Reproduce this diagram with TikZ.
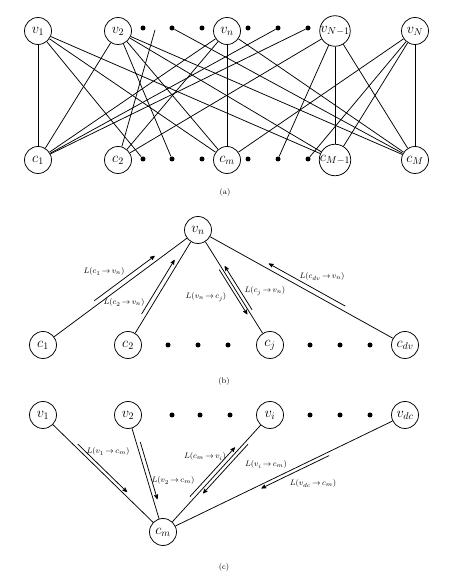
\documentclass[tikz,border=0pt]{standalone}
\usepackage{amsmath}
\usetikzlibrary{arrows, calc}

\newcommand{\msgto}{{\,\to\,}}
\tikzset{
  vnode/.style={circle, draw, minimum size=27pt, inner sep=0pt, font=\Large},
  bullet/.style={circle, fill, inner sep=0pt, minimum size=5pt},
  msg/.style={->, >=stealth'},
  lbl/.style={font=\footnotesize, inner sep=0pt}
}

\begin{document}
\begin{tikzpicture}[x=1pt, y=1pt, line width=0.75pt]
\useasboundingbox (0,0) rectangle (474,577);
% (a) full graph
\node[vnode] (v1)  at (38,546)  {$v_1$};
\node[vnode] (v2)  at (118,546) {$v_2$};
\node[vnode] (vn)  at (227,546) {$v_n$};
\node[vnode] (vN1) at (335,546) {$v_{N-1}$};
\node[vnode] (vN)  at (415,546) {$v_N$};
\node[vnode] (c1)  at (38,417)  {$c_1$};
\node[vnode] (c2)  at (118,417) {$c_2$};
\node[vnode] (cm)  at (227,417) {$c_m$};
\node[vnode] (cM1) at (335,417) {$c_{M-1}$};
\node[vnode] (cM)  at (415,417) {$c_M$};
\foreach \n/\x in {1/143, 2/172, 3/202, 4/248, 5/278, 6/308} {
  \node[bullet] (t\n) at (\x,549) {};
  \node[bullet] (b\n) at (\x,418) {};
}
\coordinate (fe) at (155,547);
\foreach \a/\b in {v1/c1, v1/b1, v1/cm, v1/cM1, v2/c1, v2/b2, v2/cm, v2/cM1,
  v2/cM, vn/c1, vn/c2, vn/cm, vn/cM, vN1/c2, vN1/b5, vN1/cM1, vN1/cM,
  vN/cm, vN/b6, vN/cM1, vN/cM, t2/cM, t5/c1, t6/c1, fe/c2}
  \draw (\a) -- (\b);
\node[lbl] (capa) at (225,384) {(a)};

% (b) variable node update
\node[vnode] (bvn)  at (198,347) {$v_n$};
\node[vnode] (bc1)  at (43,232)  {$c_1$};
\node[vnode] (bc2)  at (128,232) {$c_2$};
\node[vnode] (bcj)  at (270,232) {$c_j$};
\node[vnode] (bcdv) at (405,232) {$c_{dv}$};
\foreach \x in {168, 198, 228, 310, 340, 370}
  \node[bullet] (bd\x) at (\x,232) {};
\foreach \a in {bc1, bc2, bcj, bcdv}
  \draw (\a) -- (bvn);
\foreach \a/\b/\s/\e/\d in {bc1/bvn/0.35/0.74/5pt, bc2/bvn/0.25/0.72/4.5pt,
  bvn/bcj/0.33/0.72/-3pt, bcj/bvn/0.29/0.67/-3.5pt, bcdv/bvn/0.30/0.67/-5pt}
  \draw[msg] ($(\a)!\s!(\b)!\d!90:(\b)$) -- ($(\a)!\e!(\b)!\d!90:(\b)$);
\node[lbl] (lb1) at (104,305) {$L(c_1\msgto v_n)$};
\node[lbl] (lb2) at (124,274) {$L(c_2\msgto v_n)$};
\node[lbl] (lb3) at (206,280) {$L(v_n\msgto c_j)$};
\node[lbl] (lb4) at (265,286) {$L(c_j\msgto v_n)$};
\node[lbl] (lb5) at (322,300) {$L(c_{dv}\msgto v_n)$};
\node[lbl] (capb) at (224,195) {(b)};

% (c) check node update
\node[vnode] (cv1)  at (43,162)  {$v_1$};
\node[vnode] (cv2)  at (128,162) {$v_2$};
\node[vnode] (cvi)  at (270,162) {$v_i$};
\node[vnode] (cvdc) at (405,162) {$v_{dc}$};
\node[vnode] (ccm)  at (163,45)  {$c_m$};
\foreach \x in {172, 200, 230, 310, 340, 370}
  \node[bullet] (cd\x) at (\x,162) {};
\foreach \a in {cv1, cv2, cvi, cvdc}
  \draw (\a) -- (ccm);
\foreach \a/\b/\s/\e/\d in {cv1/ccm/0.27/0.68/3.5pt, cv2/ccm/0.24/0.73/4pt,
  ccm/cvi/0.28/0.70/4pt, cvi/ccm/0.23/0.65/3.5pt, cvdc/ccm/0.32/0.60/3.5pt}
  \draw[msg] ($(\a)!\s!(\b)!\d!90:(\b)$) -- ($(\a)!\e!(\b)!\d!90:(\b)$);
\node[lbl] (lc1) at (108,125) {$L(v_1\msgto c_m)$};
\node[lbl] (lc2) at (173,96)  {$L(v_2\msgto c_m)$};
\node[lbl] (lc3) at (205,120) {$L(c_m\msgto v_i)$};
\node[lbl] (lc4) at (266,112) {$L(v_i\msgto c_m)$};
\node[lbl] (lc5) at (313,93)  {$L(v_{dc}\msgto c_m)$};
\node[lbl] (capc) at (224,10) {(c)};
\end{tikzpicture}
\end{document}
